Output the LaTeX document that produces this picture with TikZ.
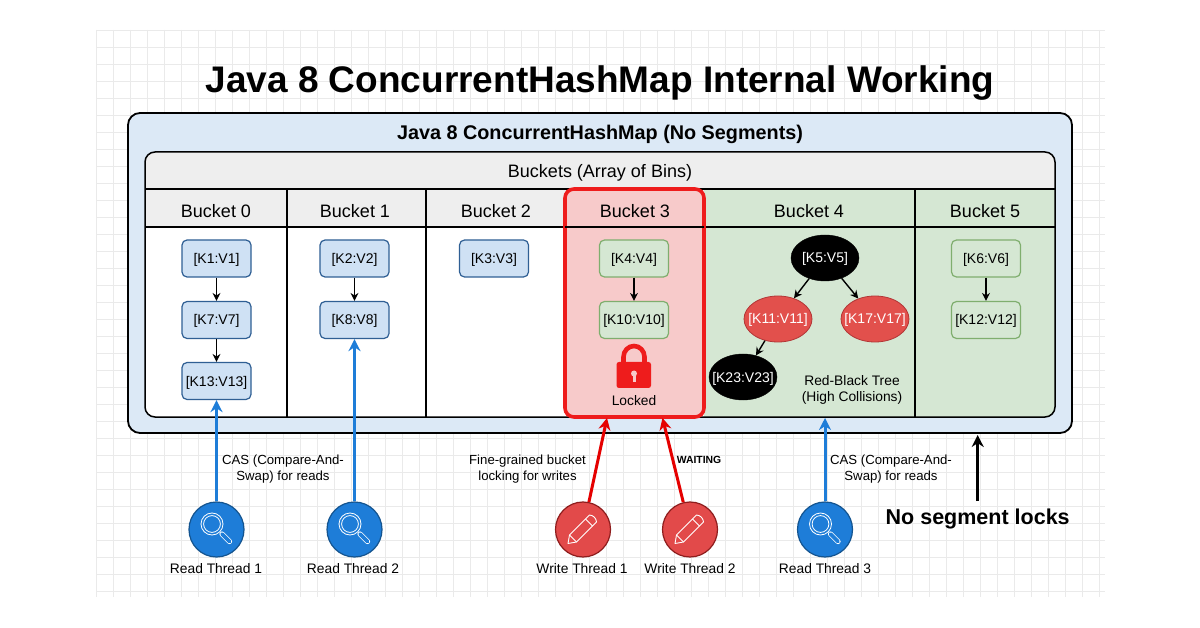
\documentclass[tikz,border=0pt]{standalone}
\usepackage{fontspec}
\setmainfont{Liberation Sans}
\usetikzlibrary{arrows.meta,shapes.geometric}
\newcommand{\fs}[1]{\fontsize{#1}{#1}\selectfont}
\definecolor{outerfill}{HTML}{DCE9F6}
\definecolor{headgray}{HTML}{EEEEEE}
\definecolor{greenbg}{HTML}{D5E7D3}
\definecolor{redbg}{HTML}{F7CACA}
\definecolor{lockred}{HTML}{EE1C1C}
\definecolor{bluenode}{HTML}{CFE1F4}
\definecolor{blueedge}{HTML}{2F5F94}
\definecolor{greenedge}{HTML}{7FAE6E}
\definecolor{rbred}{HTML}{E2504C}
\definecolor{rbrededge}{HTML}{B23636}
\definecolor{threadblue}{HTML}{1E7DD8}
\definecolor{threadblueedge}{HTML}{14548F}
\definecolor{threadred}{HTML}{E24A4A}
\definecolor{threadrededge}{HTML}{8E1D1D}
\definecolor{gridline}{HTML}{EAEAEA}
\tikzset{
  txt/.style={inner sep=0pt,align=center,text=black,font=\fs{13.8}},
  kvblue/.style={draw=blueedge,line width=1.2pt,fill=bluenode,rounded corners=5pt,minimum width=69pt,minimum height=37pt,inner sep=0pt,text height=10pt,text depth=0pt,font=\fs{14}},
  kvgreen/.style={kvblue,draw=greenedge,fill=greenbg},
  rbblack/.style={ellipse,fill=black,draw=black,minimum width=68pt,minimum height=46pt,inner xsep=-8pt,inner ysep=-4pt,text height=10pt,text depth=0pt,text=white,font=\fs{14}},
  rbredn/.style={ellipse,fill=rbred,draw=rbrededge,line width=.8pt,minimum width=68pt,minimum height=46pt,inner xsep=-8pt,inner ysep=-4pt,text height=10pt,text depth=0pt,text=white,font=\fs{14}},
  chain/.style={draw=black,line width=1.4pt,-{Stealth[length=8pt,width=8pt]}},
  readth/.style={circle,fill=threadblue,draw=threadblueedge,line width=1.2pt,minimum size=55pt,inner sep=0pt},
  writeth/.style={circle,fill=threadred,draw=threadrededge,line width=1.2pt,minimum size=55pt,inner sep=0pt},
  bluearrow/.style={draw=threadblue,line width=3pt,-{Stealth[length=12pt,width=12pt]}},
  redarrow/.style={draw=red!90!black,line width=3pt,-{Stealth[length=12pt,width=12pt]}},
  blackarrow/.style={draw=black,line width=3pt,-{Stealth[length=12pt,width=12pt]}},
  frame/.style={draw=black,line width=1.5pt},
  magnifier/.pic={
    \draw[white,line width=.8pt] (-4.5,-5.5) circle (11);
    \draw[white,line width=.8pt] (-4.5,-5.5) circle (8.4);
    \draw[white,line width=5.2pt,line cap=round] (5.5,4.5) -- (13,12);
    \draw[threadblue,line width=3.6pt,line cap=round] (5.5,4.5) -- (13,12);
  },
  pencil/.pic={
    \draw[white,line width=.9pt,line join=round] (-15,14) -- (-13.5,5.5) -- (6.5,-14.5) to[bend left=40] (13.5,-7.5) -- (-6.5,12.5) -- cycle;
    \draw[white,line width=.9pt] (-13.5,5.5) -- (-6.5,12.5);
    \draw[white,line width=.9pt] (2.5,-10.5) -- (9.5,-3.5);
  }
}
\begin{document}
\begin{tikzpicture}[x=1pt,y=-1pt]
\useasboundingbox (0,0) rectangle (1200,628);
\fill[white] (0,0) rectangle (1200,628);
% faint grid paper
\foreach \gx in {96,113,...,1105} \draw[gridline,line width=.7pt] (\gx,30) -- (\gx,597);
\foreach \gy in {30,47,...,597} \draw[gridline,line width=.7pt] (96,\gy) -- (1105,\gy);

\node[txt,font=\bfseries\fs{37}] (title) at (600,83) {Java 8 ConcurrentHashMap Internal Working};

% outer container
\draw[frame,fill=outerfill,line width=1.8pt,rounded corners=12pt] (128,113) rectangle (1072,433);
\node[txt,font=\bfseries\fs{19.8}] (sub) at (600,134) {Java 8 ConcurrentHashMap (No Segments)};

% inner table
\fill[white,rounded corners=10pt] (145,152) rectangle (1055,417);
\begin{scope}
  \clip[rounded corners=10pt] (145,152) rectangle (1055,417);
  \fill[headgray] (145,152) rectangle (1055,227);
  \fill[greenbg] (704,189) rectangle (1055,417);
\end{scope}
\draw[frame,rounded corners=10pt] (145,152) rectangle (1055,417);
\draw[frame] (145,189) -- (1055,189);
\draw[frame] (145,227) -- (1055,227);
\foreach \cx in {287,426,915} \draw[frame] (\cx,189) -- (\cx,417);
\node[txt,font=\fs{18}] (bins) at (600,173) {Buckets (Array of Bins)};

% locked bucket
\draw[draw=lockred,line width=3.6pt,fill=redbg,rounded corners=9pt] (565,189) rectangle (704,417);
\draw[frame] (565,227) -- (704,227);

\foreach \nm/\lab/\bx in {b0/Bucket 0/216,b1/Bucket 1/355,b2/Bucket 2/496,b3/Bucket 3/635,b4/Bucket 4/809,b5/Bucket 5/985}
  \node[txt,font=\fs{18}] (\nm) at (\bx,211) {\lab};

% chains
\node[kvblue] (k1) at (216.5,258.5) {[K1:V1]};
\node[kvblue] (k7) at (216.5,320) {[K7:V7]};
\node[kvblue] (k13) at (216.5,381) {[K13:V13]};
\node[kvblue] (k2) at (354.5,258.5) {[K2:V2]};
\node[kvblue] (k8) at (354.5,320) {[K8:V8]};
\node[kvblue] (k3) at (494,258.5) {[K3:V3]};
\node[kvgreen] (k4) at (634,258.5) {[K4:V4]};
\node[kvgreen] (k10) at (634,320) {[K10:V10]};
\node[kvgreen] (k6) at (986,258.5) {[K6:V6]};
\node[kvgreen] (k12) at (986,320) {[K12:V12]};
\draw[chain] (k1) -- (k7);
\draw[chain] (k7) -- (k13);
\draw[chain] (k2) -- (k8);
\draw[chain] (k4) -- (k10);
\draw[chain] (k6) -- (k12);

% red-black tree
\node[rbblack] (k5) at (825,258) {[K5:V5]};
\node[rbredn] (k11) at (778,319) {[K11:V11]};
\node[rbredn] (k17) at (875,319) {[K17:V17]};
\node[rbblack] (k23) at (743,377) {[K23:V23]};
\draw[chain] (k5) -- (k11);
\draw[chain] (k5) -- (k17);
\draw[chain] (k11) -- (k23);
\node[txt] (rbt) at (852,390) {Red-Black Tree\\[3pt](High Collisions)};

% lock icon
\draw[lockred,line width=4.6pt] (623.5,364) -- (623.5,357) arc[start angle=180,end angle=0,x radius=10.5,y radius=-11] -- (644.5,364);
\fill[lockred,rounded corners=2.5pt] (616.5,362) rectangle (651,388);
\fill[redbg] (634,373.5) circle (3);
\fill[redbg] (632.5,374) rectangle (635.5,382);
\node[txt] (locked) at (634,401) {Locked};

% threads
\node[readth] (rt1) at (216.5,529.5) {};
\node[readth] (rt2) at (354.5,529.5) {};
\node[writeth] (wt1) at (583,529.5) {};
\node[writeth] (wt2) at (690,529.5) {};
\node[readth] (rt3) at (825,529.5) {};
\pic at (rt1) {magnifier};
\pic at (rt2) {magnifier};
\pic at (rt3) {magnifier};
\pic at (wt1) {pencil};
\pic at (wt2) {pencil};
\node[txt] (lrt1) at (216,569) {Read Thread 1};
\node[txt] (lrt2) at (353,569) {Read Thread 2};
\node[txt] (lwt1) at (582,569) {Write Thread 1};
\node[txt] (lwt2) at (690,569) {Write Thread 2};
\node[txt] (lrt3) at (825,569) {Read Thread 3};

% connectors
\coordinate (b3a) at (607,418);
\coordinate (b3b) at (662.5,418);
\coordinate (b4a) at (825,418);
\coordinate (outerb) at (977.7,435);
\coordinate (nolockst) at (977.7,501);
\draw[bluearrow] (rt1) -- (k13);
\draw[bluearrow] (rt2) -- (k8);
\draw[bluearrow] (rt3) -- (b4a);
\draw[redarrow] (wt1) -- (b3a);
\draw[redarrow] (wt2) -- (b3b);
\node[txt,font=\bfseries\fs{21.5}] (nolocks) at (977.7,519) {No segment locks};
\draw[blackarrow] (nolockst) -- (outerb);

% labels
\node[txt,font=\fs{13.2}] (cas1) at (283,469) {CAS (Compare-And-\\[2.6pt]Swap) for reads};
\node[txt,font=\fs{13.2}] (fine) at (527.5,469) {Fine-grained bucket\\[2.6pt]locking for writes};
\node[txt,font=\bfseries\fs{10.4}] (wait) at (699,460) {WAITING};
\node[txt,font=\fs{13.2}] (cas2) at (891,469) {CAS (Compare-And-\\[2.6pt]Swap) for reads};
\end{tikzpicture}
\end{document}
